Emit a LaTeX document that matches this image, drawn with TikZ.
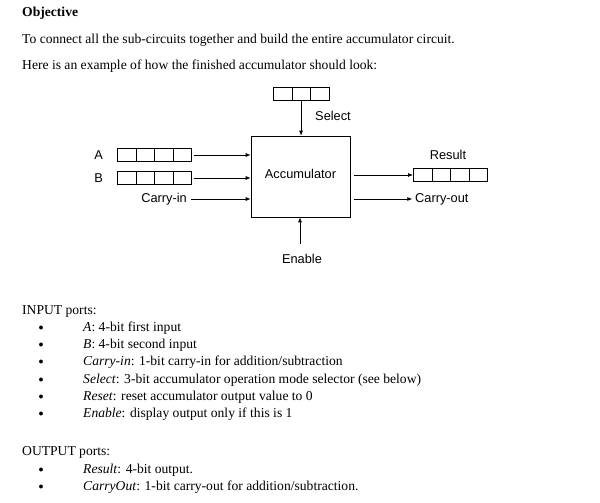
\documentclass[tikz,border=0pt]{standalone}
\usepackage{fontspec}
\setmainfont{Liberation Serif}
\newfontfamily\arialf{Liberation Sans}
\usetikzlibrary{arrows.meta}
\begin{document}
\begin{tikzpicture}[x=1pt,y=-1pt,
  txt/.style={anchor=west,inner sep=0,font=\fontsize{13.6}{15}\selectfont},
  dtx/.style={inner sep=0,font=\arialf\fontsize{12.8}{14}\selectfont},
  reg/.style={draw,line width=0.6pt,minimum height=13pt,inner sep=0},
  arr/.style={-{Latex[length=5pt,width=4pt]},line width=0.7pt},
  bul/.style={inner sep=0,font=\fontsize{10}{10}\selectfont}]
\useasboundingbox (0,0) rectangle (600,503);
\node[txt,font=\bfseries\fontsize{13.6}{15}\selectfont] (t0) at (22,13) {Objective};
\node[txt] (t1) at (22,40) {To connect all the sub-circuits together and build the entire accumulator circuit.};
\node[txt] (t2) at (22,66) {Here is an example of how the finished accumulator should look:};
% diagram
\node[draw,line width=0.6pt,minimum width=99pt,minimum height=81pt,inner sep=0] (acc) at (300.5,176.5) {};
\node[dtx] (accl) at (300.5,174) {Accumulator};
\foreach \n/\x/\y/\k in {sel/273/94/3, ra/117/155/4, rb/117/178/4, res/413/175/4}{
  \foreach \i in {1,...,\k}{
    \node[reg,minimum width=18.5pt,anchor=west] (\n\i) at (\x+18.5*\i-18.5,\y) {};
  }
}
\node[dtx,anchor=east] (la) at (103,155) {A};
\node[dtx,anchor=east] (lb) at (103,178) {B};
\node[dtx] (lsel) at (333,116) {Select};
\node[dtx] (lres) at (448,155) {Result};
\node[dtx,anchor=east] (lcin) at (187,199) {Carry-in};
\node[dtx,anchor=west] (lcout) at (415,199) {Carry-out};
\node[dtx] (len) at (302,259) {Enable};
\coordinate (selb) at (sel2.south);
\draw[arr] (selb) -- (selb |- acc.north);
\draw[arr] (ra4.east) ++(2,0) coordinate (as) -- (as -| acc.west);
\draw[arr] (rb4.east) ++(2,0) coordinate (bs) -- (bs -| acc.west);
\draw[arr] (lcin.east) ++(4,0) coordinate (cs) -- (cs -| acc.west);
\draw[arr] (acc.east |- res1.west) ++(4,0) -- (res1.west);
\draw[arr] (acc.east |- lcout.west) ++(4,0) -- ++(58,0) coordinate (ce);
\coordinate (ens) at (300,244);
\draw[arr] (ens) -- (ens |- acc.south);
% lists
\node[txt] (ip) at (22,311) {INPUT ports:};
\foreach \y/\t [count=\i] in {328/{\textit{A}: 4-bit first input},345/{\textit{B}: 4-bit second input},362/{\textit{Carry-in}: 1-bit carry-in for addition/subtraction},380/{\textit{Select}: 3-bit accumulator operation mode selector (see below)},397/{\textit{Reset}: reset accumulator output value to 0},414/{\textit{Enable}: display output only if this is 1}}{
  \node[bul] (ib\i) at (41,\y) {$\bullet$};
  \node[txt] (it\i) at (83,\y) {\t};
}
\node[txt] (op) at (22,452) {OUTPUT ports:};
\foreach \y/\t [count=\i] in {470/{\textit{Result}: 4-bit output.},487/{\textit{CarryOut}: 1-bit carry-out for addition/subtraction.}}{
  \node[bul] (ob\i) at (41,\y) {$\bullet$};
  \node[txt] (ot\i) at (83,\y) {\t};
}
\end{tikzpicture}
\end{document}
